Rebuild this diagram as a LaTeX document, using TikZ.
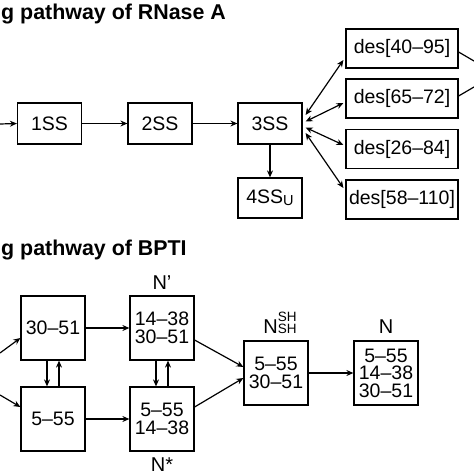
\documentclass[tikz,border=0pt]{standalone}
\usepackage{fontspec}
\setmainfont{Liberation Sans}
\usetikzlibrary{arrows.meta}
\begin{document}
\begin{tikzpicture}[x=1pt,y=-1pt,
  box/.style={draw, line width=1.2pt, inner sep=0pt, align=center, font=\fontsize{19.5}{17.5}\selectfont},
  sbox/.style={box, minimum width=64pt, minimum height=41pt},
  dbox/.style={box, minimum width=112pt, minimum height=39pt},
  qbox/.style={box, minimum width=64pt, minimum height=64pt},
  arr/.style={-{Stealth[length=7pt,width=6pt]}, line width=1.2pt},
  dbl/.style={{Stealth[length=7pt,width=6pt]}-{Stealth[length=7pt,width=6pt]}, line width=1.2pt},
  ln/.style={line width=1.2pt},
  ttl/.style={font=\fontsize{21.4}{24}\selectfont\bfseries, anchor=base west, inner sep=0pt},
  lbl/.style={font=\fontsize{20}{20}\selectfont, anchor=base, inner sep=0pt}]
\useasboundingbox (0,0) rectangle (474,474);
% ---------- RNase A ----------
\node[ttl] (t1) at (1,19) {g pathway of RNase A};
\node[sbox] (s1) at (49.5,123.5) {1SS};
\node[sbox] (s2) at (160,123.5) {2SS};
\node[sbox] (s3) at (270,123.5) {3SS};
\node[sbox, minimum height=40pt] (s4) at (270,198) {4SS\raisebox{-1.5pt}{\fontsize{14.5}{14.5}\selectfont U}};
\node[dbox] (d1) at (402,48.5) {des[40–95]};
\node[dbox] (d2) at (402,98.5) {des[65–72]};
\node[dbox] (d3) at (402,149) {des[26–84]};
\node[dbox] (d4) at (402,199.5) {des[58–110]};
\coordinate (inA) at (0,124);
\coordinate (outA) at (474,61);
\coordinate (outB) at (474,87);
\draw[arr] (inA) -- (s1.west);
\draw[arr] (s1) -- (s2);
\draw[arr] (s2) -- (s3);
\draw[arr] (s3) -- (s4);
\draw[dbl] ([shift={(3,-8.5)}]s3.east) -- ([shift={(-2,11.5)}]d1.west);
\draw[dbl] ([shift={(3,-2)}]s3.east) -- ([shift={(-2,4.5)}]d2.west);
\draw[dbl] ([shift={(3,4)}]s3.east) -- ([shift={(-2,-4)}]d3.west);
\draw[dbl] ([shift={(3,9.5)}]s3.east) -- ([shift={(-2,-11.5)}]d4.west);
\draw[ln] ([shift={(0,3.5)}]d1.east) -- (outA);
\draw[ln] ([shift={(0,-2.5)}]d2.east) -- (outB);
% ---------- BPTI ----------
\node[ttl] (t2) at (1,255) {g pathway of BPTI};
\node[qbox] (b1) at (53,328) {30–51};
\node[qbox] (b2) at (53,419) {5–55};
\node[qbox] (b3) at (162,328) {14–38\\30–51};
\node[qbox] (b4) at (162,419) {5–55\\14–38};
\node[qbox] (b5) at (276,373) {5–55\\30–51};
\node[qbox] (b6) at (386,373) {5–55\\14–38\\30–51};
\node[lbl] (l3) at (162,289) {N’};
\node[lbl] (l4) at (162,471) {N*};
\node[lbl] (l5) at (280,333) {N\makebox[0pt][l]{\raisebox{12pt}{\fontsize{13.5}{13.5}\selectfont SH}}{\fontsize{13.5}{13.5}\selectfont SH}};
\node[lbl] (l6) at (386,333) {N};
\coordinate (inC) at (0,353);
\coordinate (inD) at (0,395);
\draw[arr] (inC) -- ([shift={(0,10)}]b1.west);
\draw[arr] (inD) -- ([shift={(0,-12)}]b2.west);
\draw[arr] (b1) -- (b3);
\draw[arr] (b2) -- (b4);
\draw[arr] ([xshift=-6pt]b1.south) -- ([xshift=-6pt]b2.north);
\draw[arr] ([xshift=6pt]b2.north) -- ([xshift=6pt]b1.south);
\draw[arr] ([xshift=-6pt]b3.south) -- ([xshift=-6pt]b4.north);
\draw[arr] ([xshift=6pt]b4.north) -- ([xshift=6pt]b3.south);
\draw[arr] ([shift={(0,12)}]b3.east) -- ([shift={(0,-6)}]b5.west);
\draw[arr] ([shift={(0,-12)}]b4.east) -- ([shift={(0,5)}]b5.west);
\draw[arr] (b5) -- (b6);
\end{tikzpicture}
\end{document}
